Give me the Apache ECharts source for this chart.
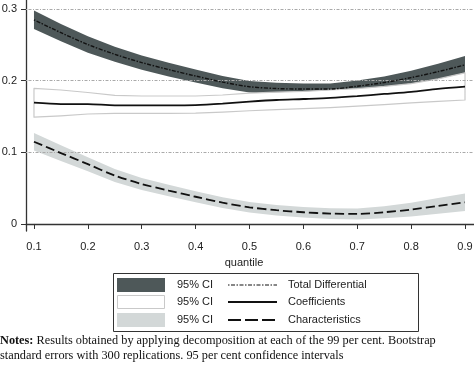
<!DOCTYPE html>
<html>
<head>
<meta charset="utf-8">
<script src="https://cdn.jsdelivr.net/npm/echarts@6/dist/echarts.min.js"></script>
<style>
  html, body { margin: 0; padding: 0; background: #fff; }
  #chart { width: 474px; height: 375px; }
</style>
</head>
<body>
<div id="chart"></div>
<script>
// quantiles
var quantile = [0.10, 0.15, 0.20, 0.25, 0.30, 0.35, 0.40, 0.45, 0.50, 0.55, 0.60, 0.65, 0.70, 0.75, 0.80, 0.85, 0.90];

// total differential + 95% CI
var totalDiff = [0.285, 0.267, 0.2505, 0.2368, 0.2253, 0.2155, 0.2065, 0.198, 0.1916, 0.189, 0.1884, 0.1884, 0.1923, 0.1974, 0.2043, 0.2126, 0.222];
var totalLow  = [0.272, 0.255, 0.239, 0.2263, 0.2153, 0.206, 0.1975, 0.1895, 0.1835, 0.181, 0.1806, 0.1806, 0.1845, 0.189, 0.1948, 0.2016, 0.2095];
var totalHigh = [0.298, 0.279, 0.262, 0.2473, 0.2353, 0.225, 0.2155, 0.2065, 0.1997, 0.197, 0.1962, 0.1962, 0.2001, 0.2058, 0.2138, 0.2236, 0.2345];

// coefficients + 95% CI
var coefs     = [0.1693, 0.1674, 0.1674, 0.1656, 0.1656, 0.1656, 0.166, 0.168, 0.1707, 0.173, 0.1744, 0.176, 0.1785, 0.1815, 0.1845, 0.1885, 0.1916];
var coefLow   = [0.149, 0.151, 0.1535, 0.1545, 0.1545, 0.1545, 0.1548, 0.156, 0.158, 0.1595, 0.161, 0.1625, 0.1645, 0.1665, 0.169, 0.171, 0.173];
var coefHigh  = [0.1893, 0.187, 0.1835, 0.1795, 0.1786, 0.1786, 0.1786, 0.180, 0.1826, 0.184, 0.185, 0.187, 0.189, 0.192, 0.196, 0.2025, 0.211];

// characteristics + 95% CI
var chars     = [0.1148, 0.099, 0.0835, 0.0676, 0.0558, 0.0466, 0.038, 0.0298, 0.0233, 0.0192, 0.0164, 0.0145, 0.014, 0.0164, 0.0201, 0.0253, 0.0303];
var charLow   = [0.1025, 0.088, 0.0737, 0.0586, 0.0473, 0.0386, 0.0303, 0.0223, 0.016, 0.0119, 0.0091, 0.007, 0.0063, 0.0079, 0.0106, 0.0143, 0.018];
var charHigh  = [0.1271, 0.110, 0.0933, 0.0766, 0.0643, 0.0546, 0.0457, 0.0373, 0.0306, 0.0265, 0.0237, 0.022, 0.0217, 0.0249, 0.0296, 0.0363, 0.0426];

var xTicks = [0.1, 0.2, 0.3, 0.4, 0.5, 0.6, 0.7, 0.8, 0.9];
var yTicks = [0, 0.1, 0.2, 0.3];
var gridVals = [0.1, 0.2, 0.3];

var darkGrey = "#4e5859";
var lightGrey = "#d3d8d8";
var outline = "#c9c9c9";

function pairs(vals) {
  return quantile.map(function(q, i) { return [q, vals[i]]; });
}

function band(name, low, high, fill, stroke, z) {
  return {
    name: name,
    type: "custom",
    z: z,
    silent: true,
    data: pairs(low),
    renderItem: function(params, api) {
      if (params.dataIndex !== 0) return;
      let pts = [];
      for (let i = 0; i < quantile.length; i++) pts.push(api.coord([quantile[i], high[i]]));
      for (let i = quantile.length - 1; i >= 0; i--) pts.push(api.coord([quantile[i], low[i]]));
      return {
        type: "polygon",
        shape: { points: pts },
        style: { fill: fill, stroke: stroke, lineWidth: stroke ? 1.2 : 0, lineJoin: "round" }
      };
    }
  };
}

let option = {
  animation: false,
  grid: {
    left: 26,
    right: 0,
    top: 0,
    bottom: 144,
    containLabel: false,
    outerBoundsMode: "none"
  },
  xAxis: {
    type: "value",
    min: 0.0852,
    max: 0.9167,
    name: "quantile",
    nameLocation: "middle",
    nameGap: 26,
    nameTextStyle: { color: "#222", fontSize: 11, fontFamily: "Liberation Sans", padding: [0, 12, 0, 0] },
    axisLine: { lineStyle: { color: "#333", width: 1.3 } },
    axisTick: { length: 5, customValues: xTicks, lineStyle: { color: "#333" } },
    axisLabel: {
      customValues: xTicks,
      margin: 10,
      color: "#222",
      fontSize: 11,
      fontFamily: "Liberation Sans",
      formatter: function(v) { return String(Math.round(v * 10) / 10); }
    },
    splitLine: { show: false }
  },
  yAxis: {
    type: "value",
    min: -0.0098,
    max: 0.3126,
    axisLine: { show: true, lineStyle: { color: "#333", width: 1.3 } },
    axisTick: { show: true, length: 5, customValues: yTicks, lineStyle: { color: "#333" } },
    axisLabel: {
      customValues: yTicks,
      margin: 9,
      color: "#222",
      fontSize: 11,
      fontFamily: "Liberation Sans",
      formatter: function(v) { return v === 0 ? "0" : String(Math.round(v * 10) / 10); }
    },
    splitLine: { show: false }
  },
  series: [
    {
      // dotted grid lines
      type: "line",
      z: 0,
      data: [],
      markLine: {
        silent: true,
        symbol: "none",
        label: { show: false },
        lineStyle: { color: "#aaa", type: [1, 1.5, 3, 1.5], width: 1 },
        data: gridVals.map(function(v) { return { yAxis: v }; })
      }
    },
    band("Total CI", totalLow, totalHigh, darkGrey, null, 1),
    band("Coef CI", coefLow, coefHigh, "#fff", outline, 2),
    band("Char CI", charLow, charHigh, lightGrey, null, 3),
    {
      name: "Total Differential",
      type: "line",
      z: 5,
      data: pairs(totalDiff),
      smooth: 0.3,
      showSymbol: false,
      lineStyle: { color: "#111", width: 1.4, type: [1.5, 1.5, 4, 1.5] }
    },
    {
      name: "Coefficients",
      type: "line",
      z: 5,
      data: pairs(coefs),
      smooth: 0.3,
      showSymbol: false,
      lineStyle: { color: "#111", width: 1.8 }
    },
    {
      name: "Characteristics",
      type: "line",
      z: 5,
      data: pairs(chars),
      smooth: 0.3,
      showSymbol: false,
      lineStyle: { color: "#111", width: 1.8, type: [9, 4] }
    }
  ],
  graphic: [
    // legend box
    { type: "rect", shape: { x: 113.5, y: 273.5, width: 305, height: 58 }, style: { fill: "none", stroke: "#333", lineWidth: 1 } },
    { type: "rect", shape: { x: 117, y: 278, width: 48, height: 14 }, style: { fill: darkGrey } },
    { type: "rect", shape: { x: 117.5, y: 295.5, width: 47, height: 13 }, style: { fill: "#fff", stroke: outline, lineWidth: 1 } },
    { type: "rect", shape: { x: 117, y: 313, width: 48, height: 14 }, style: { fill: lightGrey } },
    { type: "text", x: 177, y: 285, style: { text: "95% CI", font: "11px Liberation Sans", fill: "#222", verticalAlign: "middle" } },
    { type: "text", x: 177, y: 302, style: { text: "95% CI", font: "11px Liberation Sans", fill: "#222", verticalAlign: "middle" } },
    { type: "text", x: 177, y: 320, style: { text: "95% CI", font: "11px Liberation Sans", fill: "#222", verticalAlign: "middle" } },
    { type: "line", shape: { x1: 228, y1: 285, x2: 277, y2: 285 }, style: { stroke: "#111", lineWidth: 1.2, lineDash: [1.5, 1.5, 4, 1.5] } },
    { type: "line", shape: { x1: 228, y1: 302, x2: 277, y2: 302 }, style: { stroke: "#111", lineWidth: 1.8 } },
    { type: "line", shape: { x1: 228, y1: 320, x2: 277, y2: 320 }, style: { stroke: "#111", lineWidth: 1.8, lineDash: [13, 4] } },
    { type: "text", x: 288, y: 285, style: { text: "Total Differential", font: "11px Liberation Sans", fill: "#222", verticalAlign: "middle" } },
    { type: "text", x: 288, y: 302, style: { text: "Coefficients", font: "11px Liberation Sans", fill: "#222", verticalAlign: "middle" } },
    { type: "text", x: 288, y: 320, style: { text: "Characteristics", font: "11px Liberation Sans", fill: "#222", verticalAlign: "middle" } },
    // notes
    {
      type: "text",
      x: 0,
      y: 334,
      style: {
        text: "{b|Notes:} Results obtained by applying decomposition at each of the 99 per cent. Bootstrap\nstandard errors with 300 replications. 95 per cent confidence intervals",
        font: "12.3px Liberation Serif",
        fill: "#111",
        lineHeight: 14.5,
        rich: { b: { font: "bold 12.3px Liberation Serif", fill: "#111" } }
      }
    }
  ]
};

let myChart = echarts.init(document.getElementById("chart"));
myChart.setOption(option);
</script>
</body>
</html>
